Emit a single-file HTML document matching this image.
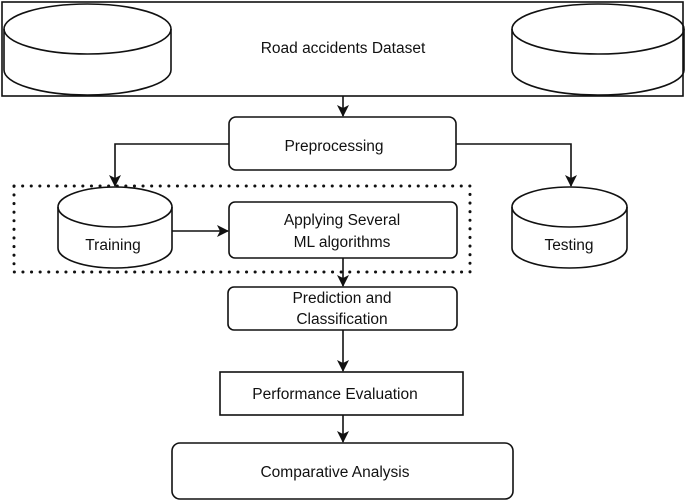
<!DOCTYPE html>
<html><head><style>body{margin:0;background:#fff}svg{display:block}text{font-family:"Liberation Sans",sans-serif;font-size:15.5px;fill:#111}</style></head><body>
<svg width="685" height="501" viewBox="0 0 685 501" xmlns="http://www.w3.org/2000/svg">
<defs><marker id="a" markerWidth="12" markerHeight="12" refX="11" refY="6" orient="auto" markerUnits="userSpaceOnUse"><path d="M0,0 L12,6 L0,12 L3,6 Z" fill="#111"/></marker></defs>
<g fill="none" stroke="#111" stroke-width="1.6">
<rect x="2" y="2" width="681" height="94"/>
<path d="M4,29 A83.5,25 0 0 1 171,29 L171,70 A83.5,25 0 0 1 4,70 Z"/><path d="M4,29 A83.5,25 0 0 0 171,29"/>
<path d="M512,29 A86,25 0 0 1 684,29 L684,70 A86,25 0 0 1 512,70 Z"/><path d="M512,29 A86,25 0 0 0 684,29"/>
<line x1="343" y1="96" x2="343" y2="116" marker-end="url(#a)"/>
<rect x="229" y="117" width="227" height="53" rx="7"/>
<polyline points="229,144 115,144 115,186" marker-end="url(#a)"/>
<polyline points="456,144 571,144 571,186" marker-end="url(#a)"/>
<rect x="14" y="186" width="456" height="86" stroke-width="3" stroke-dasharray="0.1,8.5" stroke-linecap="round"/>
<path d="M58,207 A57,20 0 0 1 172,207 L172,248 A57,20 0 0 1 58,248 Z"/><path d="M58,207 A57,20 0 0 0 172,207"/>
<path d="M512,207 A57.5,20 0 0 1 627,207 L627,248 A57.5,20 0 0 1 512,248 Z"/><path d="M512,207 A57.5,20 0 0 0 627,207"/>
<line x1="172" y1="231" x2="228" y2="231" marker-end="url(#a)"/>
<rect x="229" y="202" width="228" height="56" rx="6"/>
<line x1="343" y1="258" x2="343" y2="286" marker-end="url(#a)"/>
<rect x="228" y="287" width="229" height="43" rx="6"/>
<line x1="343" y1="330" x2="343" y2="371" marker-end="url(#a)"/>
<rect x="220" y="372" width="243" height="43"/>
<line x1="343" y1="415" x2="343" y2="442" marker-end="url(#a)"/>
<rect x="172" y="443" width="341" height="56" rx="8"/>
</g>
<g text-anchor="middle">
<text x="343" y="53">Road accidents Dataset</text>
<text x="334" y="151">Preprocessing</text>
<text x="342" y="225">Applying Several</text>
<text x="342" y="247">ML algorithms</text>
<text x="113" y="250">Training</text>
<text x="569" y="250">Testing</text>
<text x="342" y="303">Prediction  and</text>
<text x="342" y="324">Classification</text>
<text x="335" y="399">Performance Evaluation</text>
<text x="335" y="477">Comparative Analysis</text>
</g>
</svg>
</body></html>
